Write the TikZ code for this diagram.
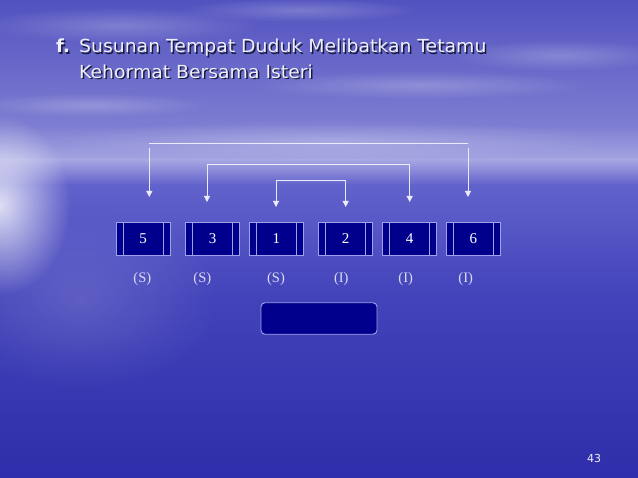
\documentclass[tikz,border=0pt]{standalone}
\usepackage{fontspec}
\setmainfont{Liberation Serif}
\newfontfamily\titlefont{DejaVu Sans}
\usetikzlibrary{arrows.meta,fadings}
\tikzfading[name=glowfade, inner color=transparent!0, outer color=transparent!100]
\definecolor{navy}{RGB}{0,0,140}
\definecolor{lav}{RGB}{160,160,235}
\definecolor{arw}{RGB}{235,235,250}
\definecolor{lbl}{RGB}{218,218,245}
\definecolor{ttlc}{RGB}{238,238,252}
\definecolor{skytop}{RGB}{82,82,192}
\definecolor{skymid}{RGB}{125,125,210}
\definecolor{horiz}{RGB}{165,165,226}
\definecolor{seatop}{RGB}{98,98,204}
\definecolor{seamid}{RGB}{66,66,186}
\definecolor{seabot}{RGB}{46,46,170}
\definecolor{shadow}{RGB}{25,25,60}
\tikzset{
  seat/.style={draw=lav, line width=0.9pt, fill=navy, minimum width=54pt, minimum height=33pt,
    inner sep=0pt, text=white, font=\fontsize{15}{15}\selectfont,
    path picture={
      \draw[lav, line width=0.9pt] ([xshift=7pt]path picture bounding box.north west) -- ([xshift=7pt]path picture bounding box.south west);
      \draw[lav, line width=0.9pt] ([xshift=-7pt]path picture bounding box.north east) -- ([xshift=-7pt]path picture bounding box.south east);
    }},
  tag/.style={text=lbl, font=\fontsize{14.5}{14.5}\selectfont, inner sep=0pt},
  arr/.style={draw=arw, line width=0.9pt, -{Triangle[width=6pt,length=6pt]}},
  ln/.style={draw=arw, line width=0.9pt},
  ttl/.style={font=\titlefont\fontsize{18}{18}\selectfont, anchor=base west, inner sep=0pt},
  cloud/.style={white, opacity=0.22, path fading=glowfade},
}
\newcommand{\ttltext}[1]{\scalebox{1.045}[1]{#1}}
\begin{document}
\begin{tikzpicture}[x=1pt,y=-1pt]
\useasboundingbox (0,0) rectangle (638,478);
% background
\fill[top color=skytop, bottom color=skymid] (0,0) rectangle (638,125);
\fill[top color=skymid, bottom color=horiz] (0,125) rectangle (638,160);
\fill[top color=horiz, bottom color=seatop] (0,160) rectangle (638,185);
\fill[top color=seatop, bottom color=seamid] (0,185) rectangle (638,300);
\fill[top color=seamid, bottom color=seabot] (0,300) rectangle (638,478);
% clouds
\fill[cloud] (120,25) ellipse (140 and 18);
\fill[cloud] (300,10) ellipse (120 and 12);
\fill[cloud] (560,55) ellipse (110 and 16);
\fill[cloud] (420,85) ellipse (170 and 14);
\fill[cloud] (90,105) ellipse (120 and 12);
\fill[cloud] (330,140) ellipse (280 and 20);
% left glow
\fill[white, opacity=0.8, path fading=glowfade] (0,205) ellipse (70 and 90);
\fill[white, opacity=0.15, path fading=glowfade] (80,300) ellipse (140 and 90);
% title
\node[ttl, text=shadow] at (57.5,54.5) {\bfseries f.};
\node[ttl, text=ttlc] (f) at (56,53) {\bfseries f.};
\node[ttl, text=shadow] at (80.5,54.5) {\ttltext{Susunan Tempat Duduk Melibatkan Tetamu}};
\node[ttl, text=ttlc] (t1) at (79,53) {\ttltext{Susunan Tempat Duduk Melibatkan Tetamu}};
\node[ttl, text=shadow] at (80.5,80) {\ttltext{Kehormat Bersama Isteri}};
\node[ttl, text=ttlc] (t2) at (79,78.5) {\ttltext{Kehormat Bersama Isteri}};
% seats
\node[seat] (s5) at (143,239) {5};
\node[seat] (s3) at (212.5,239) {3};
\node[seat] (s1) at (276.3,239) {1};
\node[seat] (s2) at (345.5,239) {2};
\node[seat] (s4) at (409.5,239) {4};
\node[seat] (s6) at (473.3,239) {6};
% labels
\node[tag] (l5) at (142.3,279) {(S)};
\node[tag] (l3) at (202.3,279) {(S)};
\node[tag] (l1) at (276,279) {(S)};
\node[tag] (l2) at (341.3,279) {(I)};
\node[tag] (l4) at (405.7,279) {(I)};
\node[tag] (l6) at (465.7,279) {(I)};
% rounded box
\node[draw=lav, line width=0.9pt, fill=navy, rounded corners=4pt, minimum width=116pt, minimum height=31.5pt, inner sep=0pt] (rb) at (319,318.5) {};
% arrow coordinates
\coordinate (oL) at (149.3,143.3);
\coordinate (oR) at (468,143.3);
\coordinate (oLs) at (149.3,148.5);
\coordinate (oRs) at (468,148.5);
\coordinate (oLe) at (149.3,197);
\coordinate (oRe) at (468,197);
\coordinate (mL) at (207,164.3);
\coordinate (mR) at (409.7,164.3);
\coordinate (mLe) at (207,202);
\coordinate (mRe) at (409.7,202);
\coordinate (iL) at (276,180.3);
\coordinate (iR) at (345.7,180.3);
\coordinate (iLe) at (276,207);
\coordinate (iRe) at (345.7,207);
% outer
\draw[ln] (oL) -- (oR);
\draw[arr] (oLs) -- (oLe);
\draw[arr] (oRs) -- (oRe);
% middle
\draw[arr] (mR) -- (mL) -- (mLe);
\draw[arr] (mL) -- (mR) -- (mRe);
% inner
\draw[arr] (iR) -- (iL) -- (iLe);
\draw[arr] (iL) -- (iR) -- (iRe);
% page number
\node[font=\titlefont\fontsize{11}{11}\selectfont, text=ttlc, inner sep=0pt] (pn) at (594,458) {43};
\end{tikzpicture}
\end{document}
